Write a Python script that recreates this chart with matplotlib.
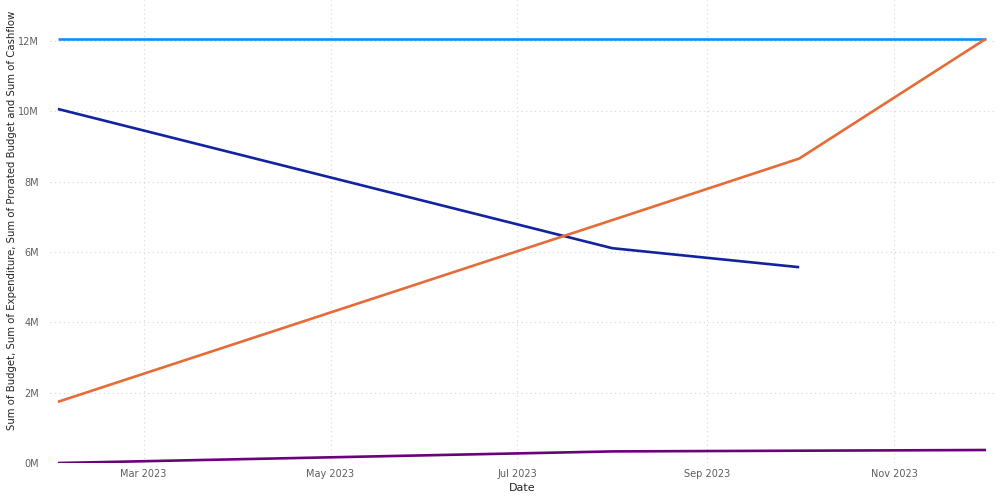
import numpy as np
import matplotlib.pyplot as plt
import matplotlib.dates as mdates
import pandas as pd

# data (values in millions)
dates = pd.to_datetime(['2023-02-01', '2023-08-01', '2023-10-01', '2023-12-01'])
budget = [12.07, 12.07, 12.07, 12.07]
prorated = [1.74, 6.91, 8.66, 12.07]
cashflow = [10.07, 6.11, 5.57, np.nan]
expenditure = [0.0, 0.33, 0.35, 0.37]

fig = plt.figure(figsize=(10, 4.96), dpi=100)
ax = fig.add_axes([0.05, 0.0665, 0.945, 0.9335])

ax.plot(dates, budget, color='#118DFF', lw=1.9, solid_capstyle='butt')
ax.plot(dates, cashflow, color='#12239E', lw=1.9, solid_capstyle='butt')
ax.plot(dates, prorated, color='#E66C37', lw=1.9, solid_capstyle='butt')
ax.plot(dates, expenditure, color='#6B007B', lw=1.9, solid_capstyle='butt')

ax.set_ylim(0, 13.17)
ax.set_xlim(pd.Timestamp('2023-01-29 10:00'), pd.Timestamp('2023-12-03 22:00'))
ax.set_yticks([0, 2, 4, 6, 8, 10, 12])
ax.set_yticklabels(['0M', '2M', '4M', '6M', '8M', '10M', '12M'])
ax.xaxis.set_major_locator(mdates.MonthLocator(bymonth=[3, 5, 7, 9, 11]))
ax.xaxis.set_major_formatter(mdates.DateFormatter('%b %Y'))

for s in ax.spines.values():
    s.set_visible(False)
ax.grid(True, color='#d6d6d6', linestyle=(0, (1, 3)), lw=0.8)
ax.set_axisbelow(True)
ax.tick_params(length=0, labelsize=7, labelcolor='#605E5C', pad=4)
ax.tick_params(axis='y', pad=8)

ax.set_xlabel('Date', fontsize=8, color='#252423', va='center')
ax.xaxis.set_label_coords(0.5, -0.053)
ax.set_ylabel('Sum of Budget, Sum of Expenditure, Sum of Prorated Budget and Sum of Cashflow',
              fontsize=7.3, color='#252423')
ax.yaxis.set_label_coords(-0.035, 0.525)

fig.savefig('out.png', dpi=100)
